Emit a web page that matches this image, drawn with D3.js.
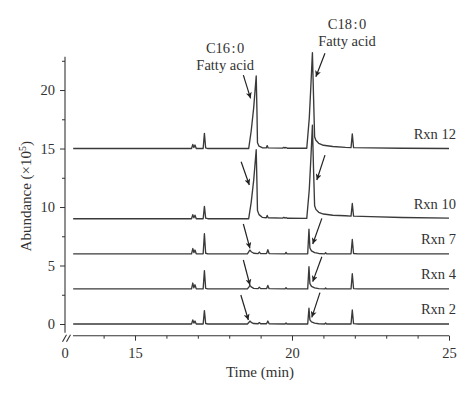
<!DOCTYPE html>
<html><head><meta charset="utf-8">
<script src="https://cdn.jsdelivr.net/npm/d3@7"></script>
<style>
html,body{margin:0;padding:0;background:#fff;}
svg{display:block;}
</style></head><body>
<svg id="chart" width="474" height="398"></svg>
<script>
// ---------- data ----------
const seriesNames = ["Rxn 12", "Rxn 10", "Rxn 7", "Rxn 4", "Rxn 2"];
const seriesOffsets = [15, 9, 6, 3, 0];

// [time (min), abundance above the trace baseline (x10^5)]
const rxn12 = [
  [13.03,0],[16.80,0],[16.84,0.35],[16.875,0.08],[16.91,0.3],[16.95,0],
  [17.17,0],[17.21,1.3],[17.25,0.05],[17.32,0],
  [18.62,0],[18.70,1.5],[18.78,3.5],[18.86,6.2],[18.885,3.0],[18.90,0.5],[18.95,0.2],[19.05,0.07],
  [19.18,0.05],[19.21,0.25],[19.24,0.05],
  [19.70,0.03],[19.74,0.1],[19.77,0.04],[19.81,0.09],[19.85,0.02],
  [20.47,0.02],[20.55,2.6],[20.60,5.3],[20.65,8.2],[20.685,4.5],[20.72,1.0],[20.76,0.7],[20.85,0.45],
  [21.0,0.28],[21.3,0.17],[21.7,0.1],
  [21.88,0.08],[21.92,1.25],[21.96,0.08],[22.5,0.05],[23.5,0.02],[25,0]
];
const rxn10 = [
  [13.03,0],[16.80,0],[16.84,0.35],[16.875,0.08],[16.91,0.3],[16.95,0],
  [17.17,0],[17.21,1.05],[17.25,0.05],[17.32,0],
  [18.62,0],[18.70,1.4],[18.78,3.3],[18.86,5.9],[18.885,2.8],[18.90,0.7],[18.95,0.35],[19.05,0.12],
  [19.18,0.08],[19.21,0.28],[19.24,0.08],
  [19.70,0.05],[19.74,0.12],[19.77,0.06],[19.81,0.1],[19.85,0.04],
  [20.47,0.03],[20.55,2.5],[20.60,5.1],[20.65,8.0],[20.685,4.3],[20.72,1.1],[20.76,0.8],[20.85,0.55],
  [21.0,0.4],[21.3,0.3],[21.7,0.25],
  [21.88,0.22],[21.92,1.3],[21.96,0.22],[22.5,0.18],[23.5,0.1],[25,0.05]
];
const rxn7 = [
  [13.03,0],[16.80,0],[16.84,0.45],[16.875,0.1],[16.91,0.32],[16.95,0],
  [17.17,0],[17.21,1.72],[17.25,0.05],[17.32,0],
  [18.58,0],[18.63,0.2],[18.66,0.32],[18.70,0.18],[18.78,0.05],[18.92,0.02],[18.96,0.15],[19.0,0.02],
  [19.19,0.02],[19.23,0.35],[19.27,0.02],
  [19.78,0],[19.81,0.12],[19.84,0],
  [20.50,0],[20.54,2.1],[20.57,0.5],[20.62,0.25],[20.72,0.1],[20.85,0.03],
  [21.04,0],[21.07,0.1],[21.10,0],
  [21.88,0],[21.92,1.22],[21.96,0.03],[22.1,0],[25,0]
];
const rxn4 = [
  [13.03,0],[16.80,0],[16.84,0.5],[16.875,0.1],[16.91,0.35],[16.95,0],
  [17.17,0],[17.21,1.56],[17.25,0.05],[17.32,0],
  [18.58,0],[18.63,0.18],[18.66,0.3],[18.70,0.17],[18.78,0.05],[18.92,0.02],[18.96,0.15],[19.0,0.02],
  [19.19,0.02],[19.23,0.3],[19.27,0.02],
  [19.78,0],[19.81,0.1],[19.84,0],
  [20.50,0],[20.54,1.9],[20.57,0.45],[20.62,0.22],[20.72,0.09],[20.85,0.03],
  [21.04,0],[21.07,0.08],[21.10,0],
  [21.88,0],[21.92,1.3],[21.96,0.03],[22.1,0],[25,0]
];
const rxn2 = [
  [13.03,0],[16.80,0],[16.84,0.35],[16.875,0.08],[16.91,0.25],[16.95,0],
  [17.17,0],[17.21,1.14],[17.25,0.04],[17.32,0],
  [18.58,0],[18.63,0.15],[18.66,0.25],[18.70,0.14],[18.78,0.04],[18.92,0.02],[18.96,0.12],[19.0,0.02],
  [19.19,0.02],[19.23,0.25],[19.27,0.02],
  [19.78,0],[19.81,0.08],[19.84,0],
  [20.50,0],[20.54,1.35],[20.57,0.35],[20.62,0.18],[20.72,0.07],[20.85,0.02],
  [21.04,0],[21.07,0.08],[21.10,0],
  [21.88,0],[21.92,1.2],[21.96,0.03],[22.1,0],[25,0]
];
const seriesData = [rxn12, rxn10, rxn7, rxn4, rxn2];

const yMajorTicks = [0, 5, 10, 15, 20];
const yMinorTicks = [2.5, 7.5, 12.5, 17.5, 22.5];
const xMajorTicks = [15, 20, 25];
const xMinorTicks = [14, 16, 17, 18, 19, 21, 22, 23, 24];
const xBreakLabel = "0";
const xDomain = [12.77, 25];
const yDomain = [-1, 22.85];

// arrows: [t start, v start, t tip, v tip]
const arrows = [
  [18.45,21.28,18.68,19.29],
  [18.38,13.87,18.64,11.88],
  [21.05,23.14,20.76,21.14],
  [21.05,14.44,20.79,12.31],
  [18.45,8.55,18.66,6.47],
  [20.95,9.03,20.66,6.84],
  [18.45,5.47,18.66,3.33],
  [20.95,5.75,20.66,3.62],
  [18.37,2.48,18.61,0.34],
  [20.89,2.68,20.63,0.57]
];
const peakLabels = [
  {name: ["C16", ":", "0"], sub: "Fatty acid", t: 17.87, v: [23.16, 21.72]},
  {name: ["C18", ":", "0"], sub: "Fatty acid", t: 21.75, v: [25.25, 23.76]}
];
const xTitle = "Time (min)";
const yTitle = "Abundance (×10";
const yTitleSup = "5";

// ---------- drawing ----------
const ink = "#333";
const font = "'Liberation Serif','Times New Roman',serif";
const svg = d3.select("#chart");

const x = d3.scaleLinear().domain(xDomain).range([65, 449]);
const y = d3.scaleLinear().domain(yDomain).range([335.7, 56.7]);

// y axis
const gy = svg.append("g").attr("transform", `translate(${x(xDomain[0])},0)`);
gy.call(d3.axisLeft(y).tickValues(yMajorTicks).tickSize(5).tickPadding(5));
gy.append("g").call(d3.axisLeft(y).tickValues(yMinorTicks).tickSize(3).tickFormat(""));
gy.selectAll(".domain").remove();
gy.selectAll("line").attr("stroke", ink).attr("stroke-width", 1);
gy.selectAll("text").attr("fill", ink).attr("font-family", font).attr("font-size", 14.5);
svg.append("line").attr("x1", x(xDomain[0])).attr("x2", x(xDomain[0]))
  .attr("y1", y(yDomain[1])).attr("y2", y(yDomain[0]) - 3)
  .attr("stroke", ink).attr("stroke-width", 1.1);

// x axis
const axisY = y(yDomain[0]);
const gx = svg.append("g").attr("transform", `translate(0,${axisY})`);
gx.call(d3.axisBottom(x).tickValues(xMajorTicks).tickSize(5).tickPadding(7.5));
gx.append("g").call(d3.axisBottom(x).tickValues(xMinorTicks).tickSize(3).tickFormat(""));
gx.selectAll(".domain").remove();
gx.selectAll("line").attr("stroke", ink).attr("stroke-width", 1);
gx.selectAll("text").attr("fill", ink).attr("font-family", font).attr("font-size", 14.5);
svg.append("line").attr("x1", x(xDomain[0]) + 8).attr("x2", x(xDomain[1]))
  .attr("y1", axisY).attr("y2", axisY).attr("stroke", ink).attr("stroke-width", 1.1);
// axis break marks
[0, 4].forEach(dx => {
  svg.append("line")
    .attr("x1", x(xDomain[0]) - 2.5 + dx).attr("y1", axisY + 6)
    .attr("x2", x(xDomain[0]) + 1.5 + dx).attr("y2", axisY - 1)
    .attr("stroke", ink).attr("stroke-width", 1.1);
});
svg.append("text").attr("x", x(xDomain[0])).attr("y", axisY + 5 + 7.5)
  .attr("dy", "0.71em").attr("text-anchor", "middle")
  .attr("font-family", font).attr("font-size", 14.5).attr("fill", ink).text(xBreakLabel);

// axis titles
svg.append("text").attr("x", (x(xDomain[0]) + x(xDomain[1])) / 2 + 3).attr("y", 377)
  .attr("text-anchor", "middle").attr("font-family", font).attr("font-size", 15)
  .attr("fill", ink).text(xTitle);
const yt = svg.append("text")
  .attr("transform", `translate(31,${(y(yDomain[0]) + y(yDomain[1])) / 2}) rotate(-90)`)
  .attr("text-anchor", "middle").attr("font-family", font).attr("font-size", 15).attr("fill", ink);
yt.append("tspan").text(yTitle);
yt.append("tspan").attr("font-size", 10).attr("dy", "-0.55em").text(yTitleSup);
yt.append("tspan").attr("dy", "0.38em").text(")");

// traces
const line = d3.line().x(d => x(d[0])).y(d => y(d[1]));
seriesData.forEach((data, i) => {
  const off = seriesOffsets[i];
  svg.append("path")
    .attr("d", line(data.map(d => [d[0], d[1] + off])))
    .attr("fill", "none").attr("stroke", "#3a3a3a").attr("stroke-width", 1.35)
    .attr("stroke-linejoin", "round");
  svg.append("text").attr("x", 456).attr("y", y(off + 0.85))
    .attr("text-anchor", "end").attr("font-family", font).attr("font-size", 14.5)
    .attr("fill", ink).text(seriesNames[i]);
});

// arrows
svg.append("defs").append("marker")
  .attr("id", "ah").attr("viewBox", "0 0 10 10").attr("refX", 10).attr("refY", 5)
  .attr("markerWidth", 8).attr("markerHeight", 6).attr("markerUnits", "userSpaceOnUse")
  .attr("orient", "auto")
  .append("path").attr("d", "M0,0 L10,5 L0,10 L2.5,5 Z").attr("fill", "#222");
arrows.forEach(a => {
  svg.append("line")
    .attr("x1", x(a[0])).attr("y1", y(a[1])).attr("x2", x(a[2])).attr("y2", y(a[3]))
    .attr("stroke", "#222").attr("stroke-width", 1.2).attr("marker-end", "url(#ah)");
});

// peak labels
peakLabels.forEach(p => {
  const t1 = svg.append("text").attr("x", x(p.t)).attr("y", y(p.v[0]))
    .attr("text-anchor", "middle").attr("font-family", font).attr("font-size", 14.5)
    .attr("fill", ink);
  t1.append("tspan").text(p.name[0]);
  t1.append("tspan").attr("dx", 1.5).text(p.name[1]);
  t1.append("tspan").attr("dx", 1.5).text(p.name[2]);
  svg.append("text").attr("x", x(p.t)).attr("y", y(p.v[1]))
    .attr("text-anchor", "middle").attr("font-family", font).attr("font-size", 14.5)
    .attr("fill", ink).text(p.sub);
});
</script>
</body></html>
